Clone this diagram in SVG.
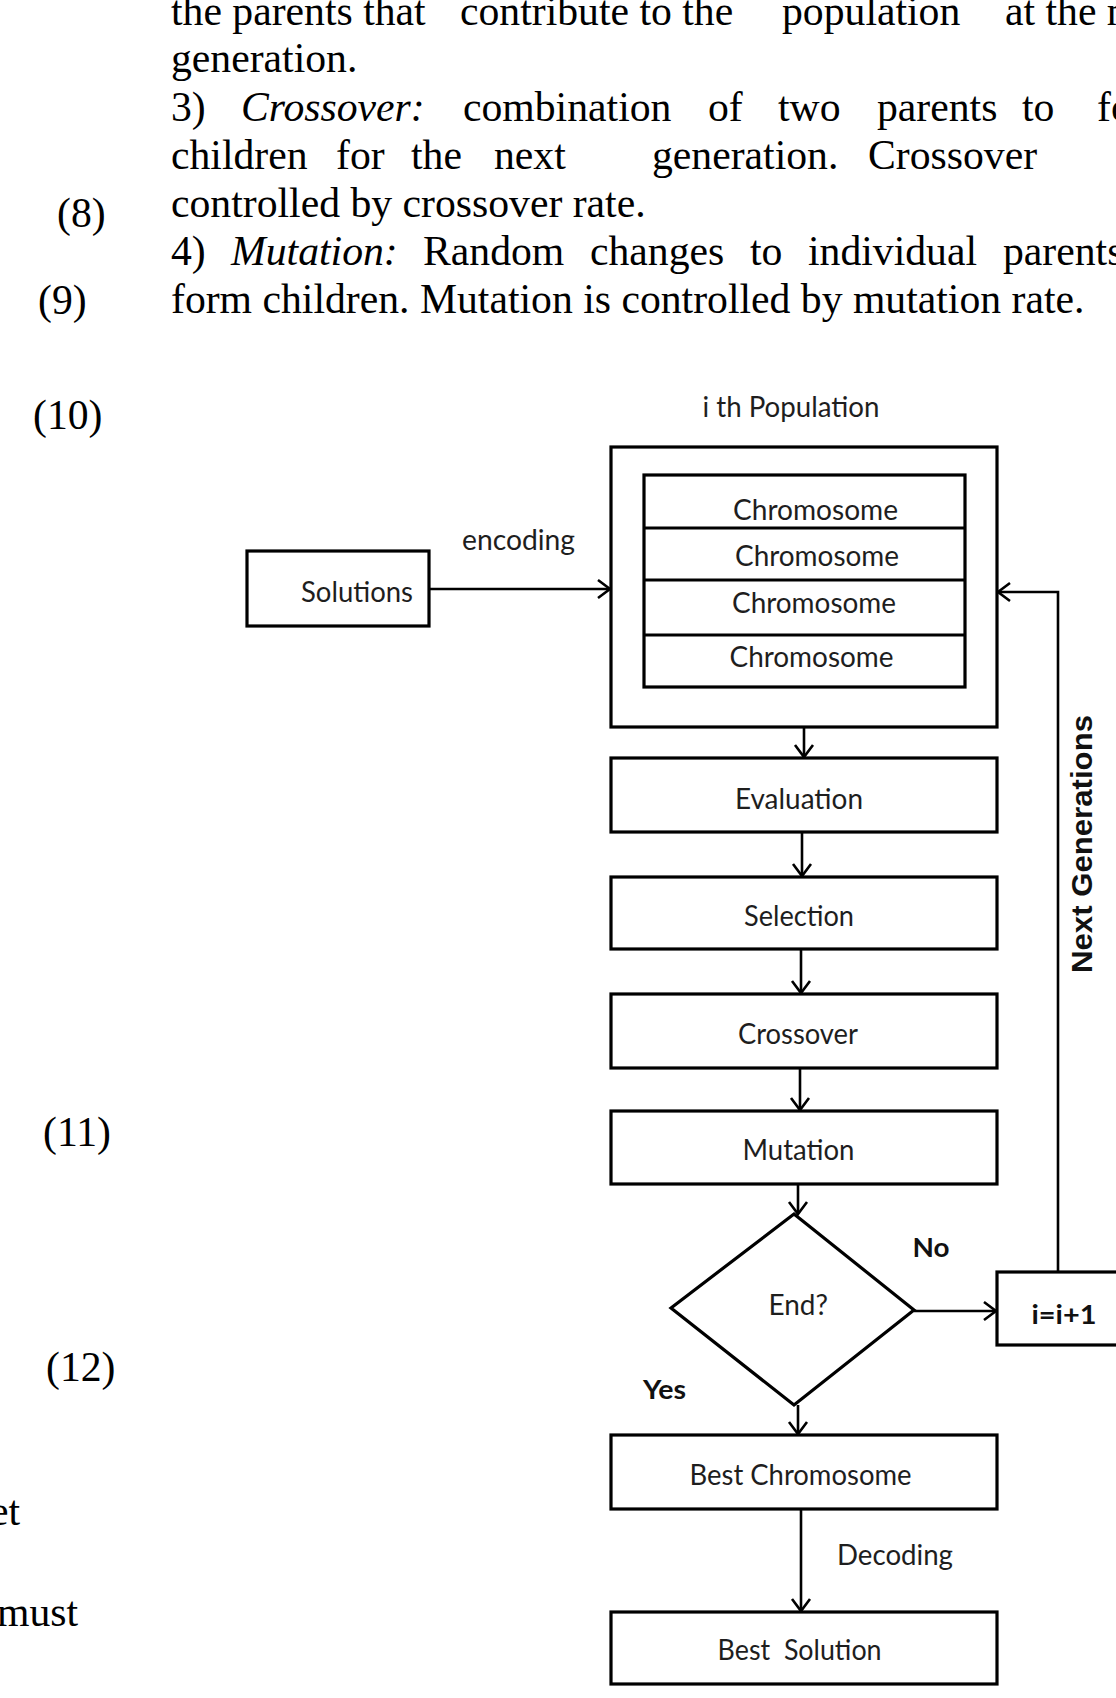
<svg xmlns="http://www.w3.org/2000/svg" width="1116" height="1698" viewBox="0 0 1116 1698">
<style>
.body{font-family:"Liberation Serif","Times New Roman",serif;font-size:41.7px;fill:#000}
.it{font-style:italic}
.lbl{font-family:Lato,"Liberation Sans",sans-serif;font-size:28px;fill:#1e1e1e}
.bld{font-family:Lato,"Liberation Sans",sans-serif;font-size:27px;font-weight:bold;fill:#111}
.box{fill:#fff;stroke:#000;stroke-width:3.2}
.ln{fill:none;stroke:#000;stroke-width:3.2}
.arr{fill:none;stroke:#000;stroke-width:2.6;marker-end:url(#ah)}
</style>
<defs>
<marker id="ah" markerUnits="userSpaceOnUse" markerWidth="30" markerHeight="30" viewBox="-15 -15 30 30" refX="0" refY="0" orient="auto">
<path d="M-12,-9 L0,0 L-12,9" fill="none" stroke="#000" stroke-width="2.6"/>
</marker>
</defs>
<rect width="1116" height="1698" fill="#fff"/>

<g id="body-text">
<text class="body" y="25"><tspan x="171">the parents that</tspan><tspan x="460">contribute to the</tspan><tspan x="782">population</tspan><tspan x="1005">at the n</tspan></text>
<text class="body" x="171" y="72">generation.</text>
<text class="body" y="121"><tspan x="171">3)</tspan><tspan x="241" class="it">Crossover:</tspan><tspan x="463">combination</tspan><tspan x="708">of</tspan><tspan x="778">two</tspan><tspan x="877">parents</tspan><tspan x="1022">to</tspan><tspan x="1097">fo</tspan></text>
<text class="body" y="169"><tspan x="171">children</tspan><tspan x="336">for</tspan><tspan x="411">the</tspan><tspan x="494">next</tspan><tspan x="652">generation.</tspan><tspan x="868">Crossover</tspan></text>
<text class="body" x="171" y="217">controlled by crossover rate.</text>
<text class="body" y="265"><tspan x="171">4)</tspan><tspan x="231" class="it">Mutation:</tspan><tspan x="423">Random</tspan><tspan x="590">changes</tspan><tspan x="750">to</tspan><tspan x="808">individual</tspan><tspan x="1003">parents</tspan></text>
<text class="body" x="171" y="313">form children. Mutation is controlled by mutation rate.</text>
<text class="body" x="57" y="227">(8)</text>
<text class="body" x="38" y="314">(9)</text>
<text class="body" x="33" y="429">(10)</text>
<text class="body" x="43" y="1146">(11)</text>
<text class="body" x="46" y="1381">(12)</text>
<text class="body" x="-10" y="1525">et</text>
<text class="body" x="-3" y="1626">must</text>
</g>

<g id="connectors">
<line class="arr" x1="429" y1="589" x2="610" y2="589"/>
<line class="arr" x1="804" y1="727" x2="804" y2="757"/>
<line class="arr" x1="802" y1="832" x2="802" y2="876"/>
<line class="arr" x1="801" y1="949" x2="801" y2="993"/>
<line class="arr" x1="800" y1="1068" x2="800" y2="1110"/>
<line class="arr" x1="798" y1="1184" x2="798" y2="1214"/>
<line class="arr" x1="798" y1="1405" x2="798" y2="1434"/>
<line class="arr" x1="801" y1="1509" x2="801" y2="1611"/>
<line class="arr" x1="914" y1="1311" x2="996" y2="1311"/>
<polyline class="arr" points="1058,1272 1058,592 998,592"/>
<text class="lbl" x="462" y="550" textLength="113" lengthAdjust="spacingAndGlyphs">encoding</text>
<text class="lbl" x="837" y="1565" textLength="116" lengthAdjust="spacingAndGlyphs">Decoding</text>
<text class="bld" x="912.5" y="1257" textLength="37" lengthAdjust="spacingAndGlyphs">No</text>
<text class="bld" x="643" y="1399" textLength="43" lengthAdjust="spacingAndGlyphs">Yes</text>
<text font-family="'Liberation Sans',Arial,sans-serif" font-size="30" font-weight="bold" fill="#111" text-anchor="middle" transform="translate(1092,844) rotate(-90)" textLength="258" lengthAdjust="spacingAndGlyphs">Next Generations</text>
</g>

<g id="node-solutions">
<rect class="box" x="247" y="551" width="182" height="75"/>
<text class="lbl" x="301" y="602" textLength="112" lengthAdjust="spacingAndGlyphs">Solutions</text>
</g>

<g id="node-population">
<text class="lbl" x="702.5" y="417" textLength="177" lengthAdjust="spacingAndGlyphs">i th Population</text>
<rect class="box" x="611" y="447" width="386" height="280"/>
<rect class="box" x="644" y="475" width="321" height="212"/>
<line class="ln" x1="644" y1="528" x2="965" y2="528"/>
<line class="ln" x1="644" y1="580" x2="965" y2="580"/>
<line class="ln" x1="644" y1="635" x2="965" y2="635"/>
<text class="lbl" x="733" y="520" textLength="165" lengthAdjust="spacingAndGlyphs">Chromosome</text>
<text class="lbl" x="735" y="566" textLength="164" lengthAdjust="spacingAndGlyphs">Chromosome</text>
<text class="lbl" x="732" y="613" textLength="164" lengthAdjust="spacingAndGlyphs">Chromosome</text>
<text class="lbl" x="729.5" y="667" textLength="164" lengthAdjust="spacingAndGlyphs">Chromosome</text>
</g>

<g id="node-evaluation">
<rect class="box" x="611" y="758" width="386" height="74"/>
<text class="lbl" x="735" y="809" textLength="128" lengthAdjust="spacingAndGlyphs">Evaluation</text>
</g>

<g id="node-selection">
<rect class="box" x="611" y="877" width="386" height="72"/>
<text class="lbl" x="744" y="926" textLength="110" lengthAdjust="spacingAndGlyphs">Selection</text>
</g>

<g id="node-crossover">
<rect class="box" x="611" y="994" width="386" height="74"/>
<text class="lbl" x="738" y="1044" textLength="120" lengthAdjust="spacingAndGlyphs">Crossover</text>
</g>

<g id="node-mutation">
<rect class="box" x="611" y="1111" width="386" height="73"/>
<text class="lbl" x="742.5" y="1160" textLength="112" lengthAdjust="spacingAndGlyphs">Mutation</text>
</g>

<g id="node-end">
<polygon class="box" points="794,1214 914,1310 794,1405 671,1308"/>
<text class="lbl" x="768.5" y="1315" textLength="59.5" lengthAdjust="spacingAndGlyphs">End?</text>
</g>

<g id="node-increment">
<rect class="box" x="997" y="1272" width="140" height="73"/>
<text class="bld" x="1031.5" y="1324" textLength="65" lengthAdjust="spacingAndGlyphs">i=i+1</text>
</g>

<g id="node-best-chromosome">
<rect class="box" x="611" y="1435" width="386" height="74"/>
<text class="lbl" x="689.5" y="1485" textLength="222" lengthAdjust="spacingAndGlyphs">Best Chromosome</text>
</g>

<g id="node-best-solution">
<rect class="box" x="611" y="1612" width="386" height="72"/>
<text class="lbl" x="717.6" y="1660" textLength="164" lengthAdjust="spacingAndGlyphs" xml:space="preserve">Best  Solution</text>
</g>
</svg>
